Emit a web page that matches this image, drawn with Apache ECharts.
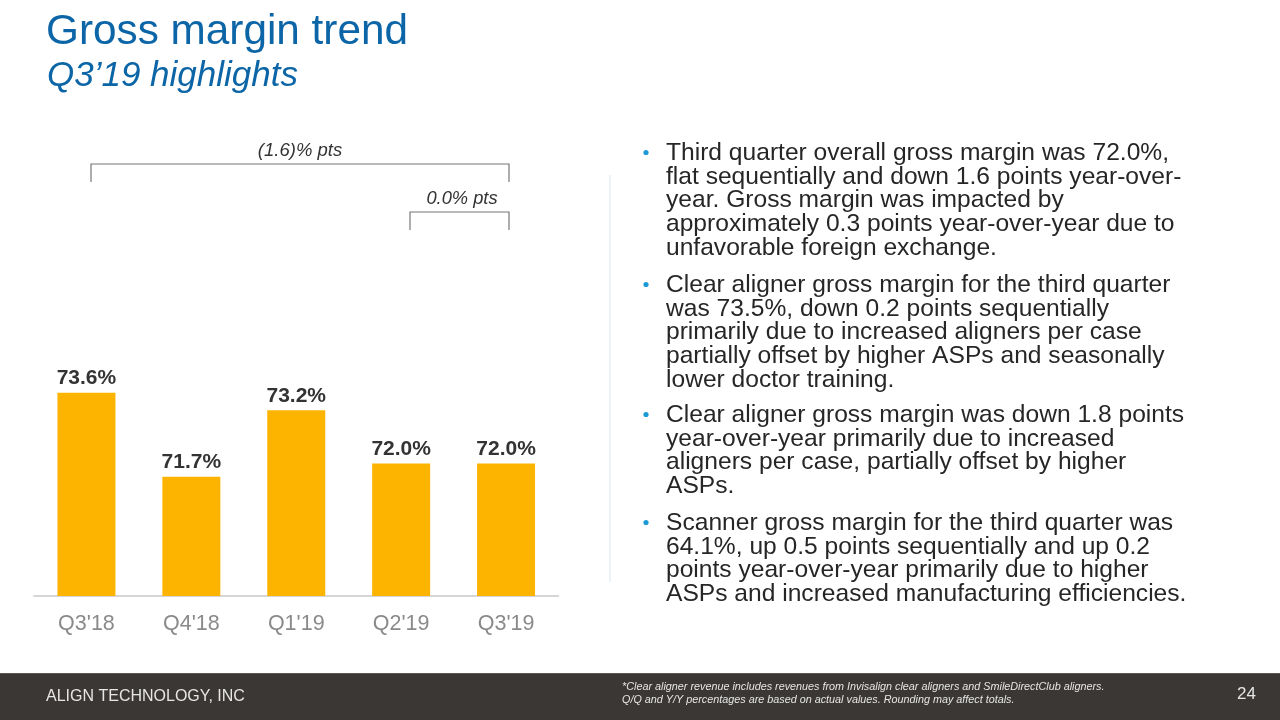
<!DOCTYPE html>
<html>
<head>
<meta charset="utf-8">
<script src="https://cdn.jsdelivr.net/npm/echarts@6/dist/echarts.min.js"></script>
<style>
  html, body { margin: 0; padding: 0; background: #fff; }
  #fig_gross_margin { width: 1280px; height: 720px; }
</style>
</head>
<body>
<div id="fig_gross_margin"></div>
<script>
// quarters and gross margin (%)
var quarters = ["Q3'18", "Q4'18", "Q1'19", "Q2'19", "Q3'19"];
var gross_margin = [73.6, 71.7, 73.2, 72.0, 72.0];

// bracket notes above the bars
var bracket_notes = ['(1.6)% pts', '0.0% pts'];

var bullets = [
    'Third quarter overall gross margin was 72.0%,\nflat sequentially and down 1.6 points year-over-\nyear. Gross margin was impacted by\napproximately 0.3 points year-over-year due to\nunfavorable foreign exchange.',
    'Clear aligner gross margin for the third quarter\nwas 73.5%, down 0.2 points sequentially\nprimarily due to increased aligners per case\npartially offset by higher ASPs and seasonally\nlower doctor training.',
    'Clear aligner gross margin was down 1.8 points\nyear-over-year primarily due to increased\naligners per case, partially offset by higher\nASPs.',
    'Scanner gross margin for the third quarter was\n64.1%, up 0.5 points sequentially and up 0.2\npoints year-over-year primarily due to higher\nASPs and increased manufacturing efficiencies.'
];
var bullet_tops = [141, 273, 403, 511];

var footnote = '*Clear aligner revenue includes revenues from Invisalign clear aligners and SmileDirectClub aligners.\nQ/Q and Y/Y percentages are based on actual values. Rounding may affect totals.';

var FONT = '"Liberation Sans", Arial, sans-serif';

var graphics = [
    // title
    { type: 'text', left: 46, top: 11, style: { text: 'Gross margin trend', font: '42.3px ' + FONT, fill: '#0b65a6' } },
    { type: 'text', left: 47, top: 59, style: { text: 'Q3\u201919 highlights', font: 'italic 35px ' + FONT, fill: '#0b65a6' } },

    // brackets
    { type: 'polyline', shape: { points: [[91, 182], [91, 164], [509, 164], [509, 182]] }, style: { stroke: '#777', lineWidth: 1.2, fill: null } },
    { type: 'text', x: 300, y: 151, style: { text: bracket_notes[0], font: 'italic 18.5px ' + FONT, fill: '#333', textAlign: 'center', textVerticalAlign: 'middle' } },
    { type: 'polyline', shape: { points: [[410, 230], [410, 212], [509, 212], [509, 230]] }, style: { stroke: '#777', lineWidth: 1.2, fill: null } },
    { type: 'text', x: 462, y: 199, style: { text: bracket_notes[1], font: 'italic 18.3px ' + FONT, fill: '#333', textAlign: 'center', textVerticalAlign: 'middle' } },

    // divider
    { type: 'line', shape: { x1: 610, y1: 175, x2: 610, y2: 582 }, style: { stroke: '#d9e6ef', lineWidth: 1 } },

    // footer
    { type: 'rect', shape: { x: 0, y: 673, width: 1280, height: 47 }, style: { fill: '#3a3734' } },
    { type: 'line', shape: { x1: 0, y1: 673.5, x2: 1280, y2: 673.5 }, style: { stroke: '#5a5754', lineWidth: 1 } },
    { type: 'text', left: 46, top: 689, style: { text: 'ALIGN TECHNOLOGY, INC', font: '16px ' + FONT, fill: '#e6e6e6' } },
    { type: 'text', left: 622, top: 680, style: { text: footnote, font: 'italic 10.8px ' + FONT, fill: '#e6e6e6', lineHeight: 13 } },
    { type: 'text', left: 1237, top: 686, style: { text: '24', font: '17px ' + FONT, fill: '#e6e6e6' } }
];

for (let i = 0; i < bullets.length; i++) {
    graphics.push({ type: 'circle', shape: { cx: 646, cy: bullet_tops[i] + 11.5, r: 2.6 }, style: { fill: '#1d9ad6' } });
    graphics.push({
        type: 'text', left: 666, top: bullet_tops[i],
        style: { text: bullets[i], font: '24.6px ' + FONT, fill: '#262626', lineHeight: 23.6 }
    });
}

var option = {
    animation: false,
    grid: { left: 34, right: 721.5, top: 375, bottom: 124 },
    xAxis: {
        type: 'category',
        data: quarters,
        axisTick: { show: false },
        axisLine: { lineStyle: { color: '#c9c9c9', width: 1.5 } },
        axisLabel: { color: '#8a8a8a', fontSize: 21.5, fontFamily: FONT, margin: 17 }
    },
    yAxis: {
        type: 'value',
        min: 69,
        max: 74,
        show: false,
        splitLine: { show: false }
    },
    series: [{
        type: 'bar',
        data: gross_margin,
        barWidth: 58,
        itemStyle: { color: '#fdb400' },
        label: {
            show: true,
            position: 'top',
            distance: 4,
            color: '#333',
            fontWeight: 'bold',
            fontSize: 21,
            fontFamily: FONT,
            formatter: function(p) { return p.value.toFixed(1) + '%'; }
        }
    }],
    graphic: graphics
};

var plot_chart = echarts.init(document.getElementById('fig_gross_margin'));
plot_chart.setOption(option);
</script>
</body>
</html>
